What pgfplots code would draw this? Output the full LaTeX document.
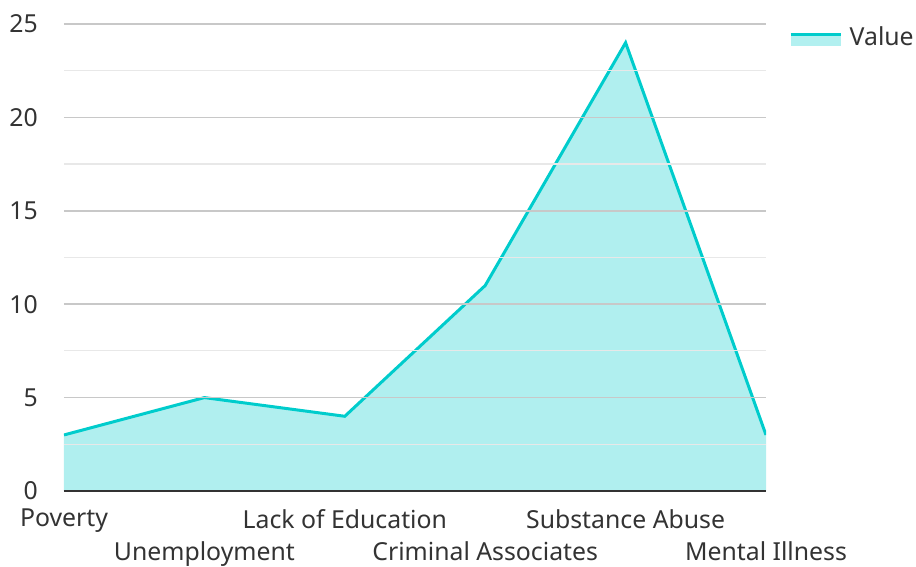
\documentclass[border=0pt]{standalone}
\usepackage{pgfplots}
\pgfplotsset{compat=1.18}
\usepackage{fontspec}
\setmainfont{Noto Sans}
\definecolor{linec}{HTML}{00CCCC}
\definecolor{gridmaj}{HTML}{C8C8C8}
\definecolor{gridmin}{HTML}{E8E8E8}
\definecolor{txt}{HTML}{333333}
\begin{document}
\begin{tikzpicture}
\useasboundingbox (-64bp,-76bp) rectangle (852bp,491bp);
\begin{axis}[
  at={(0,0)}, anchor=south west,
  scale only axis, width=702bp, height=467bp,
  xmin=0, xmax=5, ymin=0, ymax=25,
  axis on top,
  axis x line*=bottom, axis y line*=left,
  x axis line style={txt, line width=2bp, -},
  y axis line style={draw=none},
  ytick={0,5,...,25},
  minor y tick num=1,
  ymajorgrids, yminorgrids,
  major grid style={gridmaj, line width=1.5bp},
  minor grid style={gridmin, line width=1.2bp},
  major tick length=0pt, minor tick length=0pt,
  tick style={draw=none},
  /pgf/number format/assume math mode=true,
  font=\fontsize{24.8bp}{30bp}\selectfont,
  ticklabel style={font=\fontsize{24.8bp}{30bp}\selectfont, text=txt},
  yticklabel style={anchor=east, inner sep=0pt, xshift=-26bp},
  xtick={0,2,4},
  xticklabels={Poverty,Lack of Education,Substance Abuse},
  xticklabel style={anchor=north, inner sep=0pt, yshift=-18bp},
  extra x ticks={1,3,5},
  extra x tick labels={Unemployment,Criminal Associates,Mental Illness},
  extra x tick style={xticklabel style={yshift=-32bp}, grid=none},
  legend style={at={(1,1)}, anchor=north west, xshift=21bp, yshift=2bp, draw=none, fill=none, inner sep=2bp, font=\fontsize{24.8bp}{30bp}\selectfont, text=txt},
  legend image code/.code={
    \path[fill=linec, fill opacity=0.3, draw=none] (0bp,-10bp) rectangle (50bp,3bp);
    \path[draw=linec, line width=3bp] (0bp,1.5bp)--(50bp,1.5bp);
    \path (57bp,0bp);
  },
]
\addplot[draw=none, fill=linec, fill opacity=0.31]
  coordinates {(0,3) (1,5) (2,4) (3,11) (4,24) (5,3)} \closedcycle;
\addlegendentry{Value}
\addplot[draw=linec, line width=3bp, forget plot]
  coordinates {(0,3) (1,5) (2,4) (3,11) (4,24) (5,3)};
\end{axis}
\end{tikzpicture}
\end{document}
